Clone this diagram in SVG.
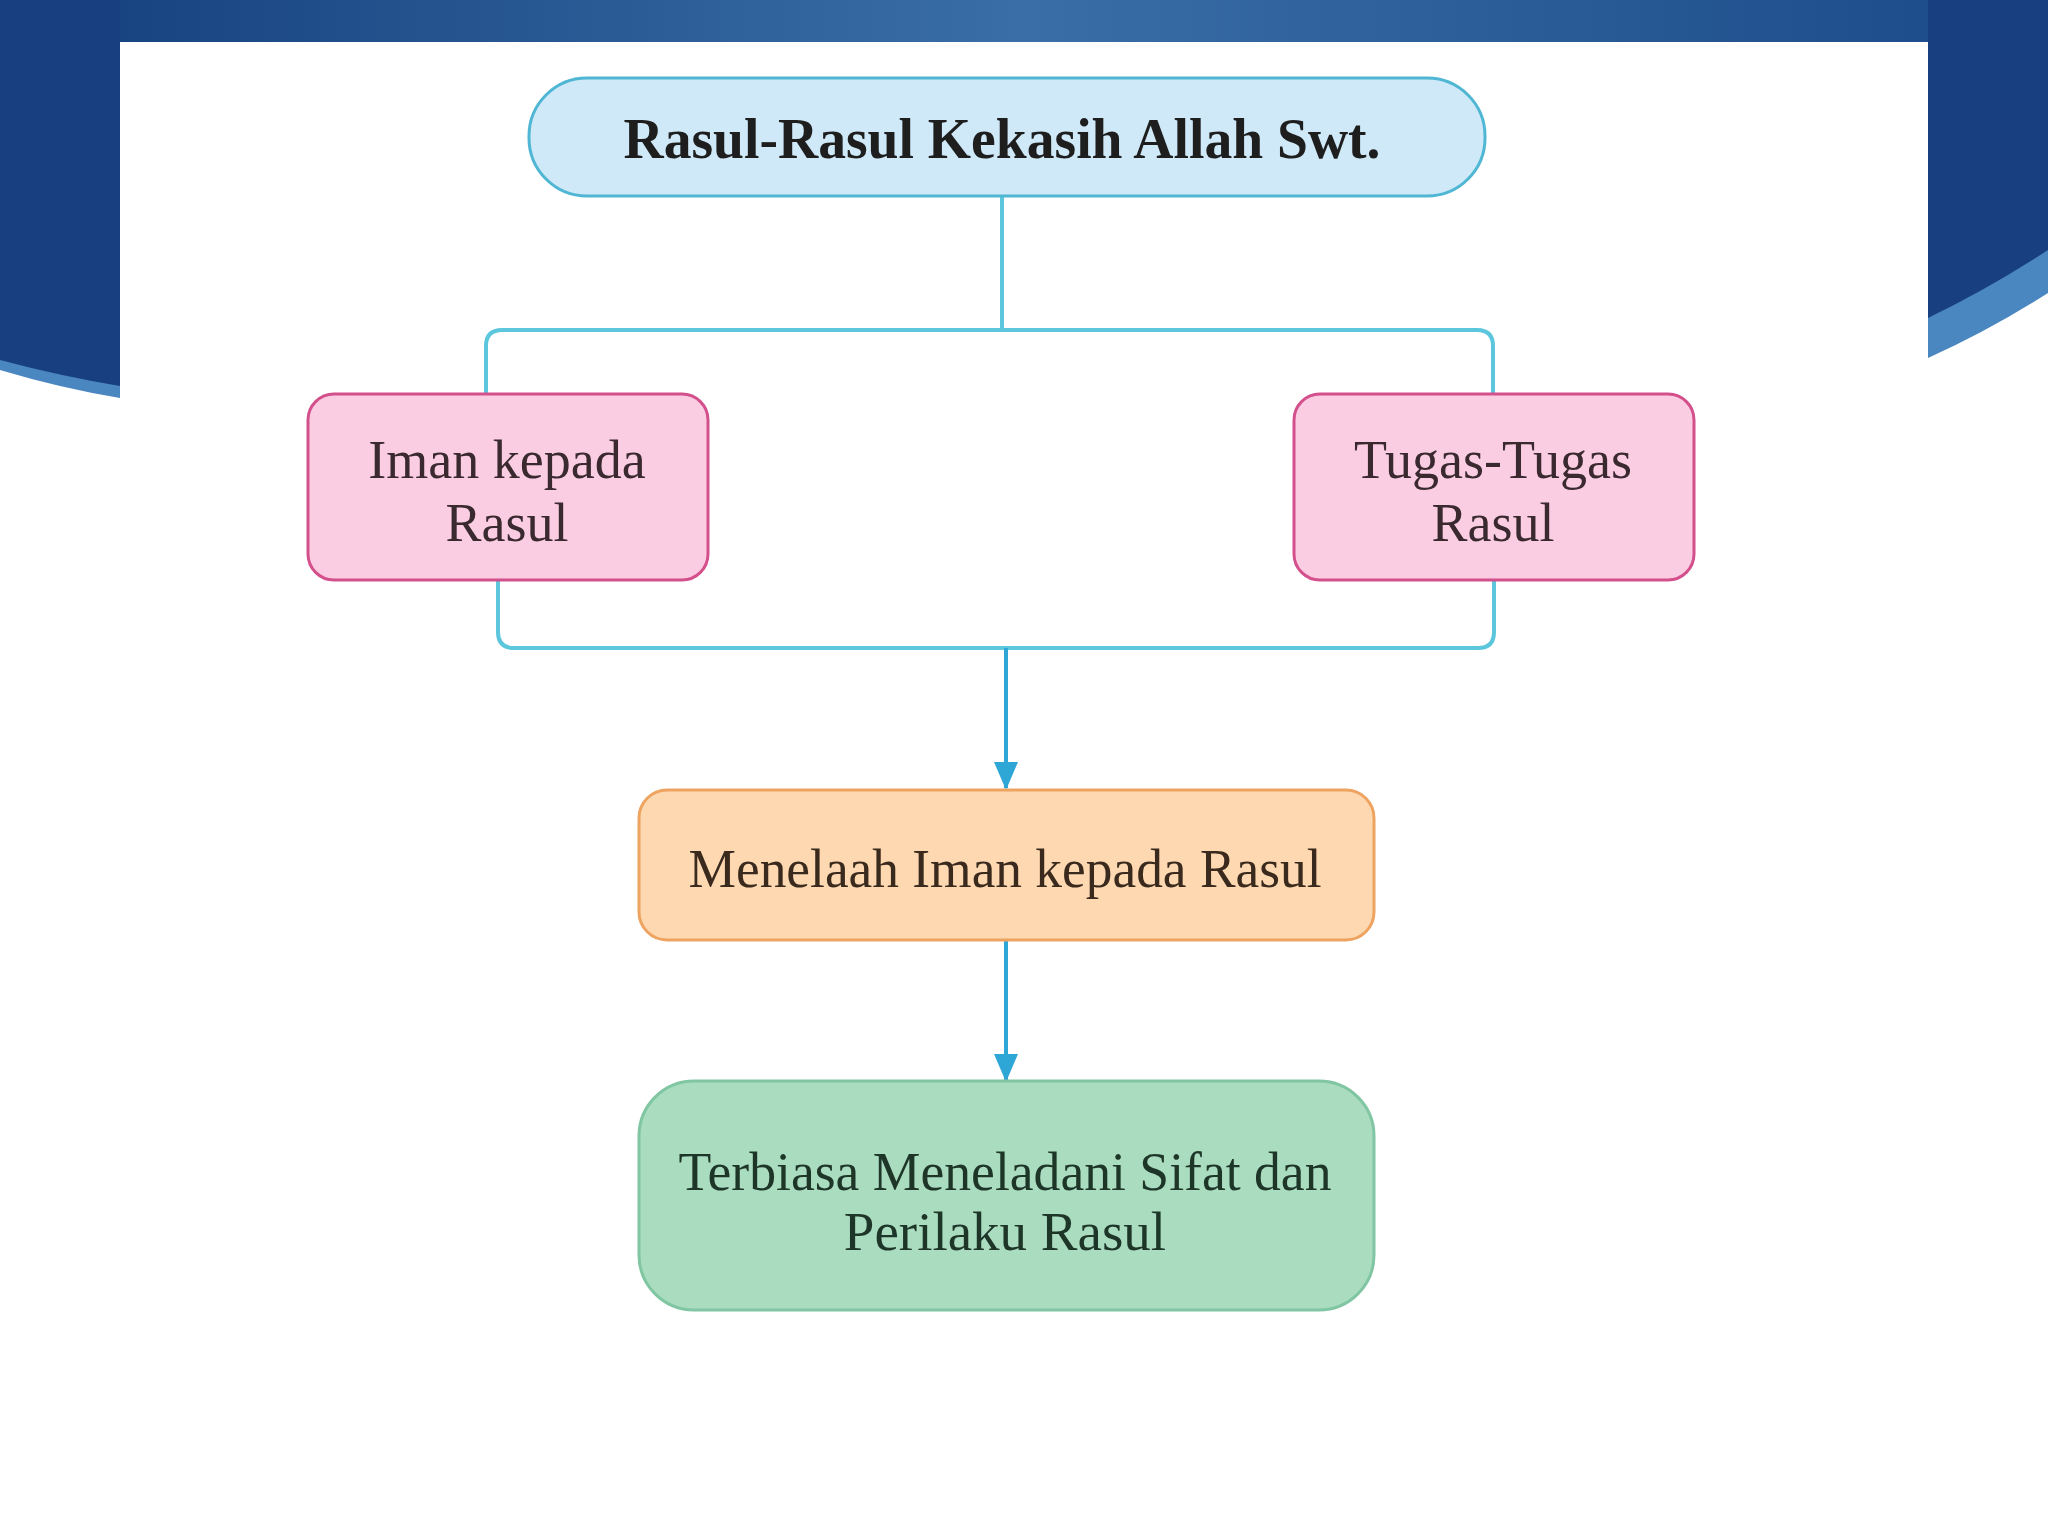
<svg xmlns="http://www.w3.org/2000/svg" width="2048" height="1536" viewBox="0 0 2048 1536">
<defs>
<linearGradient id="band" x1="0" y1="0" x2="1" y2="0">
<stop offset="0" stop-color="#143f7c"/>
<stop offset="0.5" stop-color="#3a6ea6"/>
<stop offset="1" stop-color="#1a4a88"/>
</linearGradient>
<marker id="arrow" markerUnits="userSpaceOnUse" markerWidth="28" markerHeight="24" refX="26" refY="12" orient="auto" viewBox="0 0 28 24">
<path d="M0,0 L28,12 L0,24 Z" fill="#2ea6d6"/>
</marker>
<style>
.txt{font-family:"Liberation Serif","Times New Roman",serif;text-anchor:middle}
.conn{fill:none;stroke:#5cc6dc;stroke-width:4}
.arr{fill:none;stroke:#2ea6d6;stroke-width:4}
.pink{fill:#fbcde3;stroke:#d4508c;stroke-width:3}
</style>
</defs>
<g id="background">
<rect x="0" y="0" width="2048" height="1536" fill="#ffffff"/>
<rect x="0" y="0" width="2048" height="42" fill="url(#band)"/>
<path d="M0,0 H120 V398 Q60,388 0,370 Z" fill="#4a86c0"/>
<path d="M0,0 H120 V386 Q60,376 0,360 Z" fill="#183f80"/>
<path d="M1928,0 H2048 V293 Q1990,330 1928,358 Z" fill="#4a86c0"/>
<path d="M1928,0 H2048 V250 Q1990,288 1928,318 Z" fill="#183f80"/>
<rect x="120" y="42" width="1808" height="1494" fill="#ffffff"/>
</g>
<g id="connectors">
<path class="conn" d="M1002,196 V330"/>
<path class="conn" d="M486,394 V346 Q486,330 502,330 H1477 Q1493,330 1493,346 V394"/>
<path class="conn" d="M498,580 V632 Q498,648 514,648 H1478 Q1494,648 1494,632 V580"/>
<path class="arr" d="M1006,648 V788" marker-end="url(#arrow)"/>
<path class="arr" d="M1006,940 V1080" marker-end="url(#arrow)"/>
</g>
<g id="node-top">
<rect x="529" y="78" width="956" height="118" rx="58" fill="#cfe9f8" stroke="#4fb6d4" stroke-width="3"/>
<text class="txt" x="1002" y="158" font-size="58" font-weight="bold" fill="#1e1e1e" textLength="757" lengthAdjust="spacingAndGlyphs">Rasul-Rasul Kekasih Allah Swt.</text>
</g>
<g id="node-iman">
<rect class="pink" x="308" y="394" width="400" height="186" rx="26"/>
<text class="txt" x="507" y="478" font-size="54" fill="#3a2a30">Iman kepada</text>
<text class="txt" x="507" y="541" font-size="54" fill="#3a2a30">Rasul</text>
</g>
<g id="node-tugas">
<rect class="pink" x="1294" y="394" width="400" height="186" rx="26"/>
<text class="txt" x="1493" y="478" font-size="54" fill="#3a2a30">Tugas-Tugas</text>
<text class="txt" x="1493" y="541" font-size="54" fill="#3a2a30">Rasul</text>
</g>
<g id="node-menelaah">
<rect x="639" y="790" width="735" height="150" rx="28" fill="#fdd8b0" stroke="#eea460" stroke-width="3"/>
<text class="txt" x="1005" y="887" font-size="55" fill="#3a2a1e" textLength="633" lengthAdjust="spacingAndGlyphs">Menelaah Iman kepada Rasul</text>
</g>
<g id="node-terbiasa">
<rect x="639" y="1081" width="735" height="229" rx="55" fill="#aadcc0" stroke="#80c6a2" stroke-width="3"/>
<text class="txt" x="1005" y="1190" font-size="55" fill="#1e3628" textLength="653" lengthAdjust="spacingAndGlyphs">Terbiasa Meneladani Sifat dan</text>
<text class="txt" x="1005" y="1250" font-size="55" fill="#1e3628">Perilaku Rasul</text>
</g>
</svg>
